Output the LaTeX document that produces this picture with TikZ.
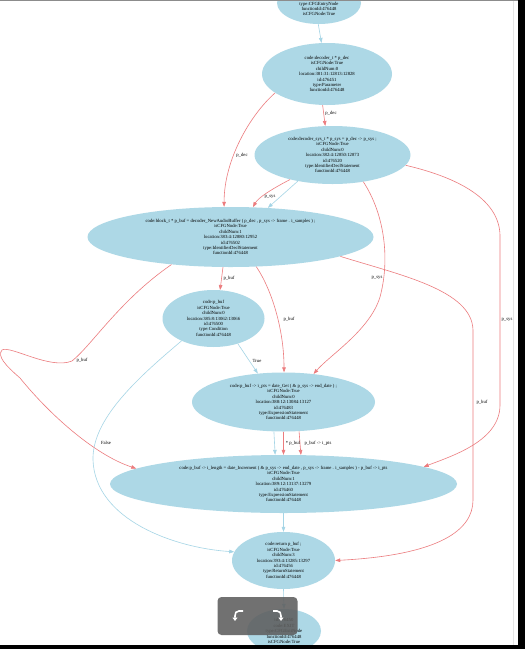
\documentclass[tikz,border=0pt]{standalone}
\usepackage{fontspec}
\setmainfont{Liberation Serif}
\usetikzlibrary{shapes.geometric,arrows.meta}
\definecolor{nodeblue}{HTML}{ADD8E6}
\definecolor{cfgblue}{HTML}{A5D5E6}
\definecolor{ddgred}{HTML}{EC7C7E}
\definecolor{overlaygray}{HTML}{5E5E5E}
\begin{document}
\begin{tikzpicture}[x=1pt,y=-1pt,
  cpg/.style={ellipse, fill=nodeblue, draw=none, inner sep=0pt, align=center,
              font=\fontsize{4.7}{5.4}\selectfont},
  cfg/.style={draw=cfgblue, line width=0.6pt, -{Triangle[length=5pt,width=3.6pt]}},
  ddg/.style={draw=ddgred, line width=0.6pt, -{Triangle[length=5pt,width=3.6pt]}},
  lbl/.style={font=\fontsize{4.7}{5.4}\selectfont, inner sep=0.5pt},
  icon/.style={draw=white, line width=1.6pt, -{Triangle[length=3.5pt,width=5pt]}}]
\useasboundingbox (0,0) rectangle (525,649);
\fill[white] (0,0) rectangle (525,649);

% nodes
\node[cpg, minimum width=84pt, minimum height=42pt] (n1) at (319,3) {};
\node[lbl, align=center, inner sep=0pt] (n1t) at (319,8.8)
  {type:CFGEntryNode\\functionId:476448\\isCFGNode:True};
\node[cpg, minimum width=130pt, minimum height=62pt] (n2) at (327,74)
  {code:decoder\_t * p\_dec\\isCFGNode:True\\childNum:0\\location:381:31:12813:12828\\id:476451\\type:Parameter\\functionId:476448};
\node[cpg, minimum width=156pt, minimum height=58pt] (n3) at (332.5,155)
  {code:decoder\_sys\_t * p\_sys = p\_dec -> p\_sys ;\\isCFGNode:True\\childNum:0\\location:382:4:12850:12873\\id:476520\\type:IdentifierDeclStatement\\functionId:476448};
\node[cpg, minimum width=286pt, minimum height=60pt] (n4) at (230.5,237)
  {code:block\_t * p\_buf = decoder\_NewAudioBuffer ( p\_dec , p\_sys -> frame . i\_samples ) ;\\isCFGNode:True\\childNum:1\\location:383:4:12880:12952\\id:476502\\type:IdentifierDeclStatement\\functionId:476448};
\node[cpg, minimum width=102pt, minimum height=57pt] (n5) at (213.5,318.5)
  {code:p\_buf\\isCFGNode:True\\childNum:0\\location:385:8:13062:13066\\id:476500\\type:Condition\\functionId:476448};
\node[cpg, minimum width=183pt, minimum height=59pt] (n6) at (283.5,402)
  {code:p\_buf -> i\_pts = date\_Get ( \& p\_sys -> end\_date ) ;\\isCFGNode:True\\childNum:0\\location:388:12:13084:13127\\id:476483\\type:ExpressionStatement\\functionId:476448};
\node[cpg, minimum width=347pt, minimum height=58pt] (n7) at (283.5,484)
  {code:p\_buf -> i\_length = date\_Increment ( \& p\_sys -> end\_date , p\_sys -> frame . i\_samples ) - p\_buf -> i\_pts\\isCFGNode:True\\childNum:1\\location:389:12:13137:13279\\id:476460\\type:ExpressionStatement\\functionId:476448};
\node[cpg, minimum width=103pt, minimum height=57pt] (n8) at (283.5,560.5)
  {code:return p\_buf ;\\isCFGNode:True\\childNum:3\\location:393:4:13285:13297\\id:476456\\type:ReturnStatement\\functionId:476448};
\node[cpg, minimum width=74pt, minimum height=44pt] (n9) at (284,631)
  {id:476450\\code:EXIT\\type:CFGExitNode\\functionId:476448\\isCFGNode:True};

% control flow edges
\draw[cfg] (n1.268) -- (n2.100);
\draw[cfg] (n3.217) -- (n4.38);
\draw[cfg] (n5.314) -- (n6.132);
\draw[cfg] (n5.215) .. controls (135,380) and (92,420) .. (93,460)
           .. controls (95,520) and (175,548) .. (n8.170);
\draw[cfg] (n6.252) -- (n7.106);
\draw[cfg] (n7.270) -- (n8.90);
\draw[cfg] (n8.270) -- (n9.90);

% data dependence edges
\draw[ddg] (n2.262) -- (n3.104);
\draw[ddg] (n2.200) .. controls (250,115) and (224,160) .. (n4.102);
\draw[ddg] (n3.210) .. controls (270,190) and (258,198) .. (n4.53);
\draw[ddg] (n3.319) .. controls (385,215) and (390,260) .. (380,297)
           .. controls (370,330) and (330,355) .. (n6.43);
\draw[ddg] (n3.352) .. controls (460,178) and (499,200) .. (500,235) -- (500,405)
           .. controls (500,440) and (455,455) .. (n7.7);
\draw[ddg] (n4.256) -- (n5.77);
\draw[ddg] (n4.311) .. controls (272,290) and (284,330) .. (n6.89);
\draw[ddg] (n4.205) .. controls (120,300) and (92,345) .. (72,361)
           .. controls (50,370) and (10,345) .. (2,350)
           .. controls (-3,356) and (5,365) .. (20,378)
           .. controls (50,415) and (95,455) .. (n7.174);
\draw[ddg] (n4.350) .. controls (400,275) and (472,290) .. (473,330) -- (473,500)
           .. controls (473,530) and (440,555) .. (n8.0);
\draw[ddg] (n6.270) -- (n7.90);
\draw[ddg] (n6.298) -- (n7.59);

% edge labels
\node[lbl] (l1) at (331,113) {p\_dec};
\node[lbl] (l2) at (242,155) {p\_dec};
\node[lbl] (l3) at (270,197) {p\_sys};
\node[lbl] (l4) at (377,278) {p\_sys};
\node[lbl] (l5) at (507,320) {p\_sys};
\node[lbl] (l6) at (229,278) {p\_buf};
\node[lbl] (l7) at (289,319) {p\_buf};
\node[lbl] (l8) at (82,360) {p\_buf};
\node[lbl] (l9) at (482,402) {p\_buf};
\node[lbl] (l10) at (257,361) {True};
\node[lbl] (l11) at (106,443) {False};
\node[lbl] (l12) at (293,443) {* p\_buf};
\node[lbl] (l13) at (318,443) {p\_buf -> i\_pts};

% viewer overlay
\node[fill=overlaygray, fill opacity=0.88, rounded corners=4pt, minimum width=80pt,
      minimum height=38pt, inner sep=0pt] (ov) at (257.5,616) {};
\draw[icon] (243,611) -- (239,611) .. controls (236,611) and (235,613) .. (235,616) -- (235,621);
\draw[icon] (273,611) -- (277,611) .. controls (280,611) and (281,613) .. (281,616) -- (281,621);

% window frame
\fill[black!45] (0,0) rectangle (518,1.3);
\draw[black!10, line width=0.4pt] (513,1.3) -- (513,645);
\fill[black] (518,0) rectangle (525,649);
\fill[black] (0,645) rectangle (525,649);
\end{tikzpicture}
\end{document}
